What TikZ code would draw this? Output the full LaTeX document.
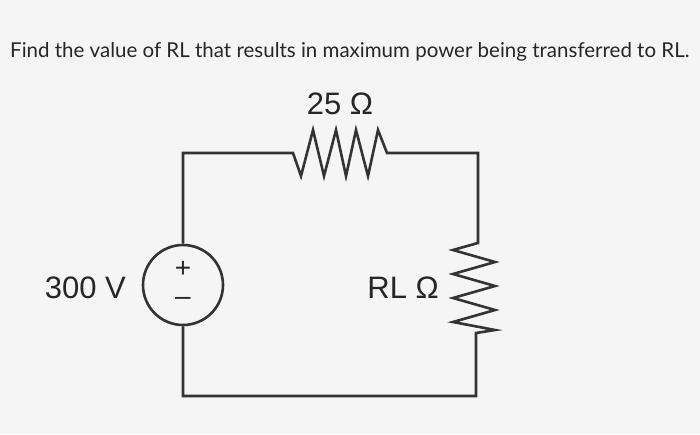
\documentclass[tikz,border=0pt]{standalone}
\usepackage{fontspec}
\setmainfont{Liberation Sans}
\newfontfamily\lato{Lato}
\begin{document}
\begin{tikzpicture}[x=1pt,y=-1pt,
  wire/.style={line width=2.6pt,draw=black!80,line join=miter},
  lbl/.style={font=\fontsize{31}{33}\selectfont,text=black!85,inner sep=0pt}]
\fill[gray!8] (0,0) rectangle (700,434);
\useasboundingbox (0,0) rectangle (700,434);
\node[anchor=base west,inner sep=0pt,font=\lato\fontsize{20.5}{23}\selectfont,text=black!85] (title) at (10,57) {Find the value of RL that results in maximum power being transferred to RL.};
\node[circle,draw=black!80,line width=2.6pt,minimum size=80pt,inner sep=0pt] (src) at (183,285) {};
\node[font=\fontsize{28}{30}\selectfont,inner sep=0pt,text=black!85] (plus) at (183,269) {+};
\node[font=\fontsize{28}{30}\selectfont,inner sep=0pt,text=black!85] (minus) at (183,301) {–};
\coordinate (tl) at (183,153);
\coordinate (r1a) at (293,153);
\coordinate (r1b) at (387,153);
\coordinate (tr) at (478,153);
\coordinate (r2a) at (478,243);
\coordinate (r2b) at (476,333);
\coordinate (br) at (476,396);
\coordinate (bl) at (183,396);
\draw[wire] (src.north) -- (tl) -- (r1a) -- ++(8,23) -- ++(12,-46) -- ++(11,46) -- ++(12,-46) -- ++(10,46) -- ++(10,-46) -- ++(12,46) -- ++(10,-46) -- (r1b) -- (tr) -- (r2a)
  -- (453,250) -- (495,262) -- (453,274) -- (495,286) -- (453,298) -- (495,310) -- (453,322) -- (495,330) -- (r2b) -- (br) -- (bl) -- (src.south);
\node[lbl] (r1) at (340,104) {25 Ω};
\node[lbl,anchor=east] (v) at (126,288) {300 V};
\node[lbl,anchor=east] (rl) at (439,288) {RL Ω};
\end{tikzpicture}
\end{document}
